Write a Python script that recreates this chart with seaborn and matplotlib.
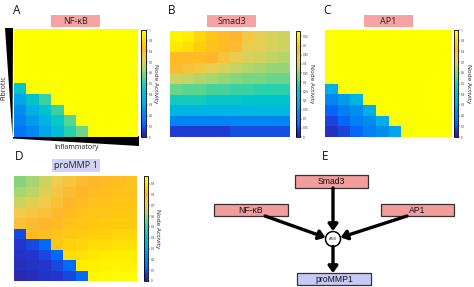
import colorsys
import matplotlib
matplotlib.use("Agg")
import matplotlib.pyplot as plt
import numpy as np
import seaborn as sns
from matplotlib.colors import LinearSegmentedColormap
from matplotlib.patches import Polygon, Rectangle, Circle

W, H = 474, 287

# node activity grids, rows = fibrotic (top = high), cols = inflammatory
nfkb = [
    [1.0, 1.0, 1.0, 1.0, 1.0, 1.0, 1.0, 1.0, 1.0, 1.0],
    [1.0, 1.0, 1.0, 1.0, 1.0, 1.0, 1.0, 1.0, 1.0, 1.0],
    [1.0, 1.0, 1.0, 1.0, 1.0, 1.0, 1.0, 1.0, 1.0, 1.0],
    [1.0, 1.0, 1.0, 1.0, 1.0, 1.0, 1.0, 1.0, 1.0, 1.0],
    [1.0, 1.0, 1.0, 1.0, 1.0, 1.0, 1.0, 1.0, 1.0, 1.0],
    [0.44, 1.0, 1.0, 1.0, 1.0, 1.0, 1.0, 1.0, 1.0, 1.0],
    [0.30, 0.42, 0.52, 1.0, 1.0, 1.0, 1.0, 1.0, 1.0, 1.0],
    [0.25, 0.33, 0.42, 0.52, 1.0, 1.0, 1.0, 1.0, 1.0, 1.0],
    [0.20, 0.28, 0.35, 0.45, 0.55, 1.0, 1.0, 1.0, 1.0, 1.0],
    [0.15, 0.22, 0.30, 0.40, 0.50, 0.58, 1.0, 1.0, 1.0, 1.0],
]
smad3 = [
    [0.56, 0.55, 0.52, 0.50, 0.48, 0.47, 0.44, 0.42, 0.41, 0.40],
    [0.54, 0.53, 0.51, 0.49, 0.48, 0.46, 0.43, 0.42, 0.41, 0.40],
    [0.48, 0.48, 0.48, 0.47, 0.45, 0.43, 0.41, 0.40, 0.39, 0.38],
    [0.46, 0.45, 0.44, 0.42, 0.41, 0.39, 0.38, 0.37, 0.36, 0.36],
    [0.40, 0.39, 0.38, 0.37, 0.36, 0.35, 0.34, 0.34, 0.33, 0.33],
    [0.33, 0.32, 0.32, 0.31, 0.31, 0.30, 0.30, 0.29, 0.29, 0.29],
    [0.27, 0.27, 0.27, 0.26, 0.26, 0.26, 0.25, 0.25, 0.25, 0.25],
    [0.20, 0.20, 0.20, 0.20, 0.20, 0.20, 0.21, 0.21, 0.21, 0.21],
    [0.12, 0.12, 0.12, 0.12, 0.12, 0.13, 0.13, 0.13, 0.13, 0.13],
    [0.04, 0.04, 0.04, 0.04, 0.04, 0.05, 0.05, 0.05, 0.05, 0.05],
]
ap1 = [
    [1.0, 1.0, 1.0, 1.0, 1.0, 1.0, 1.0, 1.0, 1.0, 1.0],
    [1.0, 1.0, 1.0, 1.0, 1.0, 1.0, 1.0, 1.0, 1.0, 1.0],
    [1.0, 1.0, 1.0, 1.0, 1.0, 1.0, 1.0, 1.0, 1.0, 1.0],
    [1.0, 1.0, 1.0, 1.0, 1.0, 1.0, 1.0, 1.0, 1.0, 1.0],
    [1.0, 1.0, 1.0, 1.0, 1.0, 1.0, 1.0, 1.0, 1.0, 1.0],
    [0.32, 1.0, 1.0, 1.0, 1.0, 1.0, 1.0, 1.0, 1.0, 1.0],
    [0.22, 0.28, 0.35, 1.0, 1.0, 1.0, 1.0, 1.0, 1.0, 1.0],
    [0.12, 0.18, 0.25, 0.32, 1.0, 1.0, 1.0, 1.0, 1.0, 1.0],
    [0.08, 0.12, 0.18, 0.25, 0.32, 1.0, 1.0, 1.0, 1.0, 1.0],
    [0.05, 0.08, 0.12, 0.18, 0.25, 0.30, 1.0, 1.0, 1.0, 1.0],
]
prommp1 = [
    [0.58, 0.62, 0.67, 0.72, 0.75, 0.77, 0.79, 0.80, 0.81, 0.82],
    [0.62, 0.65, 0.70, 0.74, 0.77, 0.79, 0.80, 0.81, 0.82, 0.82],
    [0.67, 0.70, 0.73, 0.76, 0.79, 0.80, 0.82, 0.82, 0.83, 0.83],
    [0.72, 0.74, 0.76, 0.78, 0.80, 0.82, 0.83, 0.83, 0.84, 0.84],
    [0.76, 0.77, 0.79, 0.80, 0.82, 0.83, 0.84, 0.85, 0.85, 0.85],
    [0.08, 0.80, 0.81, 0.82, 0.84, 0.85, 0.86, 0.86, 0.87, 0.87],
    [0.06, 0.08, 0.12, 0.84, 0.86, 0.87, 0.88, 0.88, 0.89, 0.89],
    [0.05, 0.06, 0.08, 0.12, 0.88, 0.89, 0.90, 0.91, 0.91, 0.91],
    [0.04, 0.05, 0.06, 0.08, 0.12, 0.91, 0.92, 0.93, 0.93, 0.93],
    [0.03, 0.04, 0.05, 0.06, 0.08, 0.12, 0.94, 0.95, 0.96, 0.96],
]

titles = ["NF-κB", "Smad3", "AP1", "proMMP 1"]
letters = ["A", "B", "C", "D"]
vmaxes = [1.0, 0.58, 1.0, 0.97]
cbar_ticks = [
    np.round(np.arange(0, 1.01, 0.1), 2),
    np.round(np.arange(0, 0.56, 0.05), 2),
    np.round(np.arange(0, 1.01, 0.1), 2),
    np.round(np.arange(0, 0.91, 0.1), 2),
]

# matlab parula, sampled, slightly more saturated like the printed figure
parula_pts = [
    (0.2081, 0.1663, 0.5292), (0.1959, 0.2645, 0.7279), (0.0117, 0.3875, 0.8820),
    (0.0723, 0.4887, 0.8467), (0.0793, 0.5200, 0.8312), (0.0266, 0.6137, 0.8135),
    (0.0228, 0.6535, 0.7768), (0.0843, 0.6928, 0.7062), (0.2178, 0.7250, 0.6193),
    (0.3953, 0.7459, 0.5244), (0.5709, 0.7485, 0.4494), (0.7184, 0.7411, 0.3905),
    (0.8507, 0.7299, 0.3360), (0.9739, 0.7314, 0.2666), (0.9880, 0.8066, 0.1794),
    (0.9589, 0.8949, 0.1132), (0.9763, 0.9831, 0.0538),
]
boosted = []
for r, g, b in parula_pts:
    h, s, v = colorsys.rgb_to_hsv(r, g, b)
    boosted.append(colorsys.hsv_to_rgb(h, min(1.0, s * 1.15), min(1.0, v * 1.12)))
parula = LinearSegmentedColormap.from_list("parula", boosted)

sns.set_style("white")
plt.rcParams['font.family'] = ['Open Sans', 'DejaVu Sans']

fig = plt.figure(figsize=(W / 100, H / 100), dpi=100)


def rect(x0, y0, x1, y1):
    return [x0 / W, 1 - y1 / H, (x1 - x0) / W, (y1 - y0) / H]


ov = fig.add_axes([0, 0, 1, 1], zorder=0)
ov.set_xlim(0, W)
ov.set_ylim(H, 0)
ov.axis('off')

grids = [nfkb, smad3, ap1, prommp1]
heat_px = [(14, 29, 138, 137), (170, 31, 290, 137), (325, 30, 452, 137), (14, 176, 137, 281)]
cbar_px = [(141, 30, 146, 137), (296, 31, 300, 137), (454, 30, 458, 137), (144, 176, 148, 281)]
label_x = [156, 312, 469, 158]
title_px = [(51, 15, 100, 27), (207, 15, 256, 27), (364, 15, 413, 27), (52, 159, 100, 172)]
title_fc = ['#f7a3a3', '#f7a3a3', '#f7a3a3', '#d2d2f7']
letter_px = [(17, 10), (172, 10), (327, 10), (19, 157)]

for i, g in enumerate(grids):
    ax = fig.add_axes(rect(*heat_px[i]))
    cax = fig.add_axes(rect(*cbar_px[i]))
    sns.heatmap(np.array(g), ax=ax, cbar_ax=cax, cmap=parula, vmin=0, vmax=vmaxes[i],
                xticklabels=False, yticklabels=False, cbar_kws={'ticks': cbar_ticks[i]})
    cb = ax.collections[0].colorbar
    cb.outline.set_linewidth(0.6)
    cb.outline.set_edgecolor('black')
    cax.tick_params(labelsize=2.2, length=1.2, width=0.3, pad=0.8)
    cax.set_yticklabels([f"{t:g}" for t in cbar_ticks[i]])
    cy = (cbar_px[i][1] + cbar_px[i][3]) / 2
    ov.text(label_x[i], cy, "Node Activity", rotation=270, fontsize=4.6,
            ha='center', va='center', color='#222222')
    x0, y0, x1, y1 = title_px[i]
    ov.add_patch(Rectangle((x0, y0), x1 - x0, y1 - y0, fc=title_fc[i], ec='none'))
    ov.text((x0 + x1) / 2, (y0 + y1) / 2 + 0.5, titles[i], fontsize=6.5, ha='center',
            va='center', color='#222222')
    ov.text(letter_px[i][0], letter_px[i][1], letters[i], fontsize=8.5, ha='center',
            va='center', color='#111111')

# axis wedges for panel A
ov.add_patch(Polygon([(5, 28), (13, 28), (12.5, 137)], closed=True, fc='black', ec='none'))
ov.add_patch(Polygon([(13, 137), (139, 136), (139, 146), (13, 138.5)], closed=True,
                     fc='black', ec='none'))
ov.text(3.5, 88, "Fibrotic", rotation=90, fontsize=5, ha='center', va='center', color='#222222')
ov.text(77, 147.5, "Inflammatory", fontsize=5, ha='center', va='center', color='#222222')

# panel E: regulatory logic
ov.text(325, 157, "E", fontsize=8.5, ha='center', va='center', color='#111111')
nodes = {
    "Smad3": (295, 175, 368, 188, '#f39c9c'),
    "NF-κB": (214, 204, 288, 216, '#f39c9c'),
    "AP1": (381, 204, 454, 216, '#f39c9c'),
    "proMMP1": (297, 273, 371, 285, '#c9c9f5'),
}
for name, (x0, y0, x1, y1, fc) in nodes.items():
    ov.add_patch(Rectangle((x0, y0), x1 - x0, y1 - y0, fc=fc, ec='#333333', lw=0.9))
    ov.text((x0 + x1) / 2, (y0 + y1) / 2 + 0.3, name, fontsize=6.2, ha='center', va='center',
            family=['Liberation Sans', 'DejaVu Sans'], color='#111111')

and_c = (333, 239)
ov.add_patch(Circle(and_c, 7.5, fc='white', ec='black', lw=1.1, zorder=3))
ov.text(and_c[0], and_c[1] + 0.3, "AND", fontsize=2.8, ha='center', va='center',
        family=['Liberation Sans', 'DejaVu Sans'], zorder=4)

arrow_kw = dict(arrowstyle='-|>,head_length=0.55,head_width=0.4', lw=2.4, color='black',
                shrinkA=0, shrinkB=0, mutation_scale=7)
ov.annotate('', xy=(333, 231), xytext=(333, 188), arrowprops=arrow_kw)
ov.annotate('', xy=(325.5, 237.5), xytext=(265, 216), arrowprops=arrow_kw)
ov.annotate('', xy=(340.5, 237.5), xytext=(407, 216), arrowprops=arrow_kw)
ov.annotate('', xy=(333, 273), xytext=(333, 246.5), arrowprops=arrow_kw)

fig.savefig("out.png", dpi=100)
